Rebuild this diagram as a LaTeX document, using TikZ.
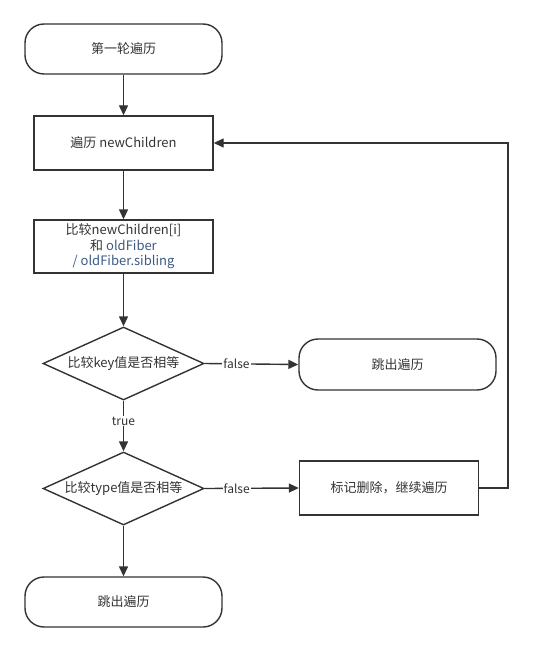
\documentclass[tikz,border=0pt]{standalone}
\usepackage{fontspec}
\setmainfont{Noto Sans CJK SC}
\usetikzlibrary{arrows.meta,shapes.geometric,positioning}
\definecolor{ln}{HTML}{333333}
\definecolor{tx}{HTML}{333333}
\definecolor{bl}{HTML}{3C5A82}
\tikzset{
  base/.style={draw=ln, line width=1.4pt, text=tx, font=\fontsize{13}{15.5}\selectfont, align=center, inner sep=0pt},
  term/.style={base, rectangle, rounded corners=19pt, minimum width=197pt, minimum height=50pt},
  proc/.style={base, rectangle, minimum width=179pt, minimum height=54pt},
  dec/.style={base, diamond, aspect=2.2, minimum width=161pt, minimum height=73pt},
  conn/.style={draw=ln, line width=1.4pt, -{Triangle[length=10pt,width=9pt]}},
  lbl/.style={fill=white, text=tx, font=\fontsize{12}{14}\selectfont, inner sep=1pt}
}
\begin{document}
\begin{tikzpicture}[x=1pt,y=-1pt]
\useasboundingbox (0,0) rectangle (532,652);
\node[term] (start) at (123.5,49) {第一轮遍历};
\node[proc] (loop) at (123.5,143) {遍历 newChildren};
\node[proc, minimum height=53pt] (cmp) at (123.5,246.5) {比较newChildren[i]\\和 \textcolor{bl}{oldFiber}\\\textcolor{bl}{/ oldFiber.sibling}};
\node[dec] (key) at (123.5,363.5) {比较key值是否相等};
\node[dec] (type) at (123.5,488.5) {比较type值是否相等};
\node[term] (end) at (123.5,602) {跳出遍历};
\node[term, minimum height=51pt] (out) at (397.5,364.5) {跳出遍历};
\node[proc] (mark) at (389,488) {标记删除，继续遍历};
\coordinate (c1) at (508,488);
\coordinate (c2) at (508,143);

\draw[conn] (start) -- (loop);
\draw[conn] (loop) -- (cmp);
\draw[conn] (cmp) -- (key);
\draw[conn] (key) -- node[lbl, pos=0.4] {true} (type);
\draw[conn] (type) -- (end);
\draw[conn] (key.east) -- node[lbl, pos=0.34] {false} (out.west);
\draw[conn] (type.east) -- node[lbl, pos=0.34] {false} (mark.west);
\draw[conn] (mark.east) -- (c1) -- (c2) -- (loop.east);
\end{tikzpicture}
\end{document}
